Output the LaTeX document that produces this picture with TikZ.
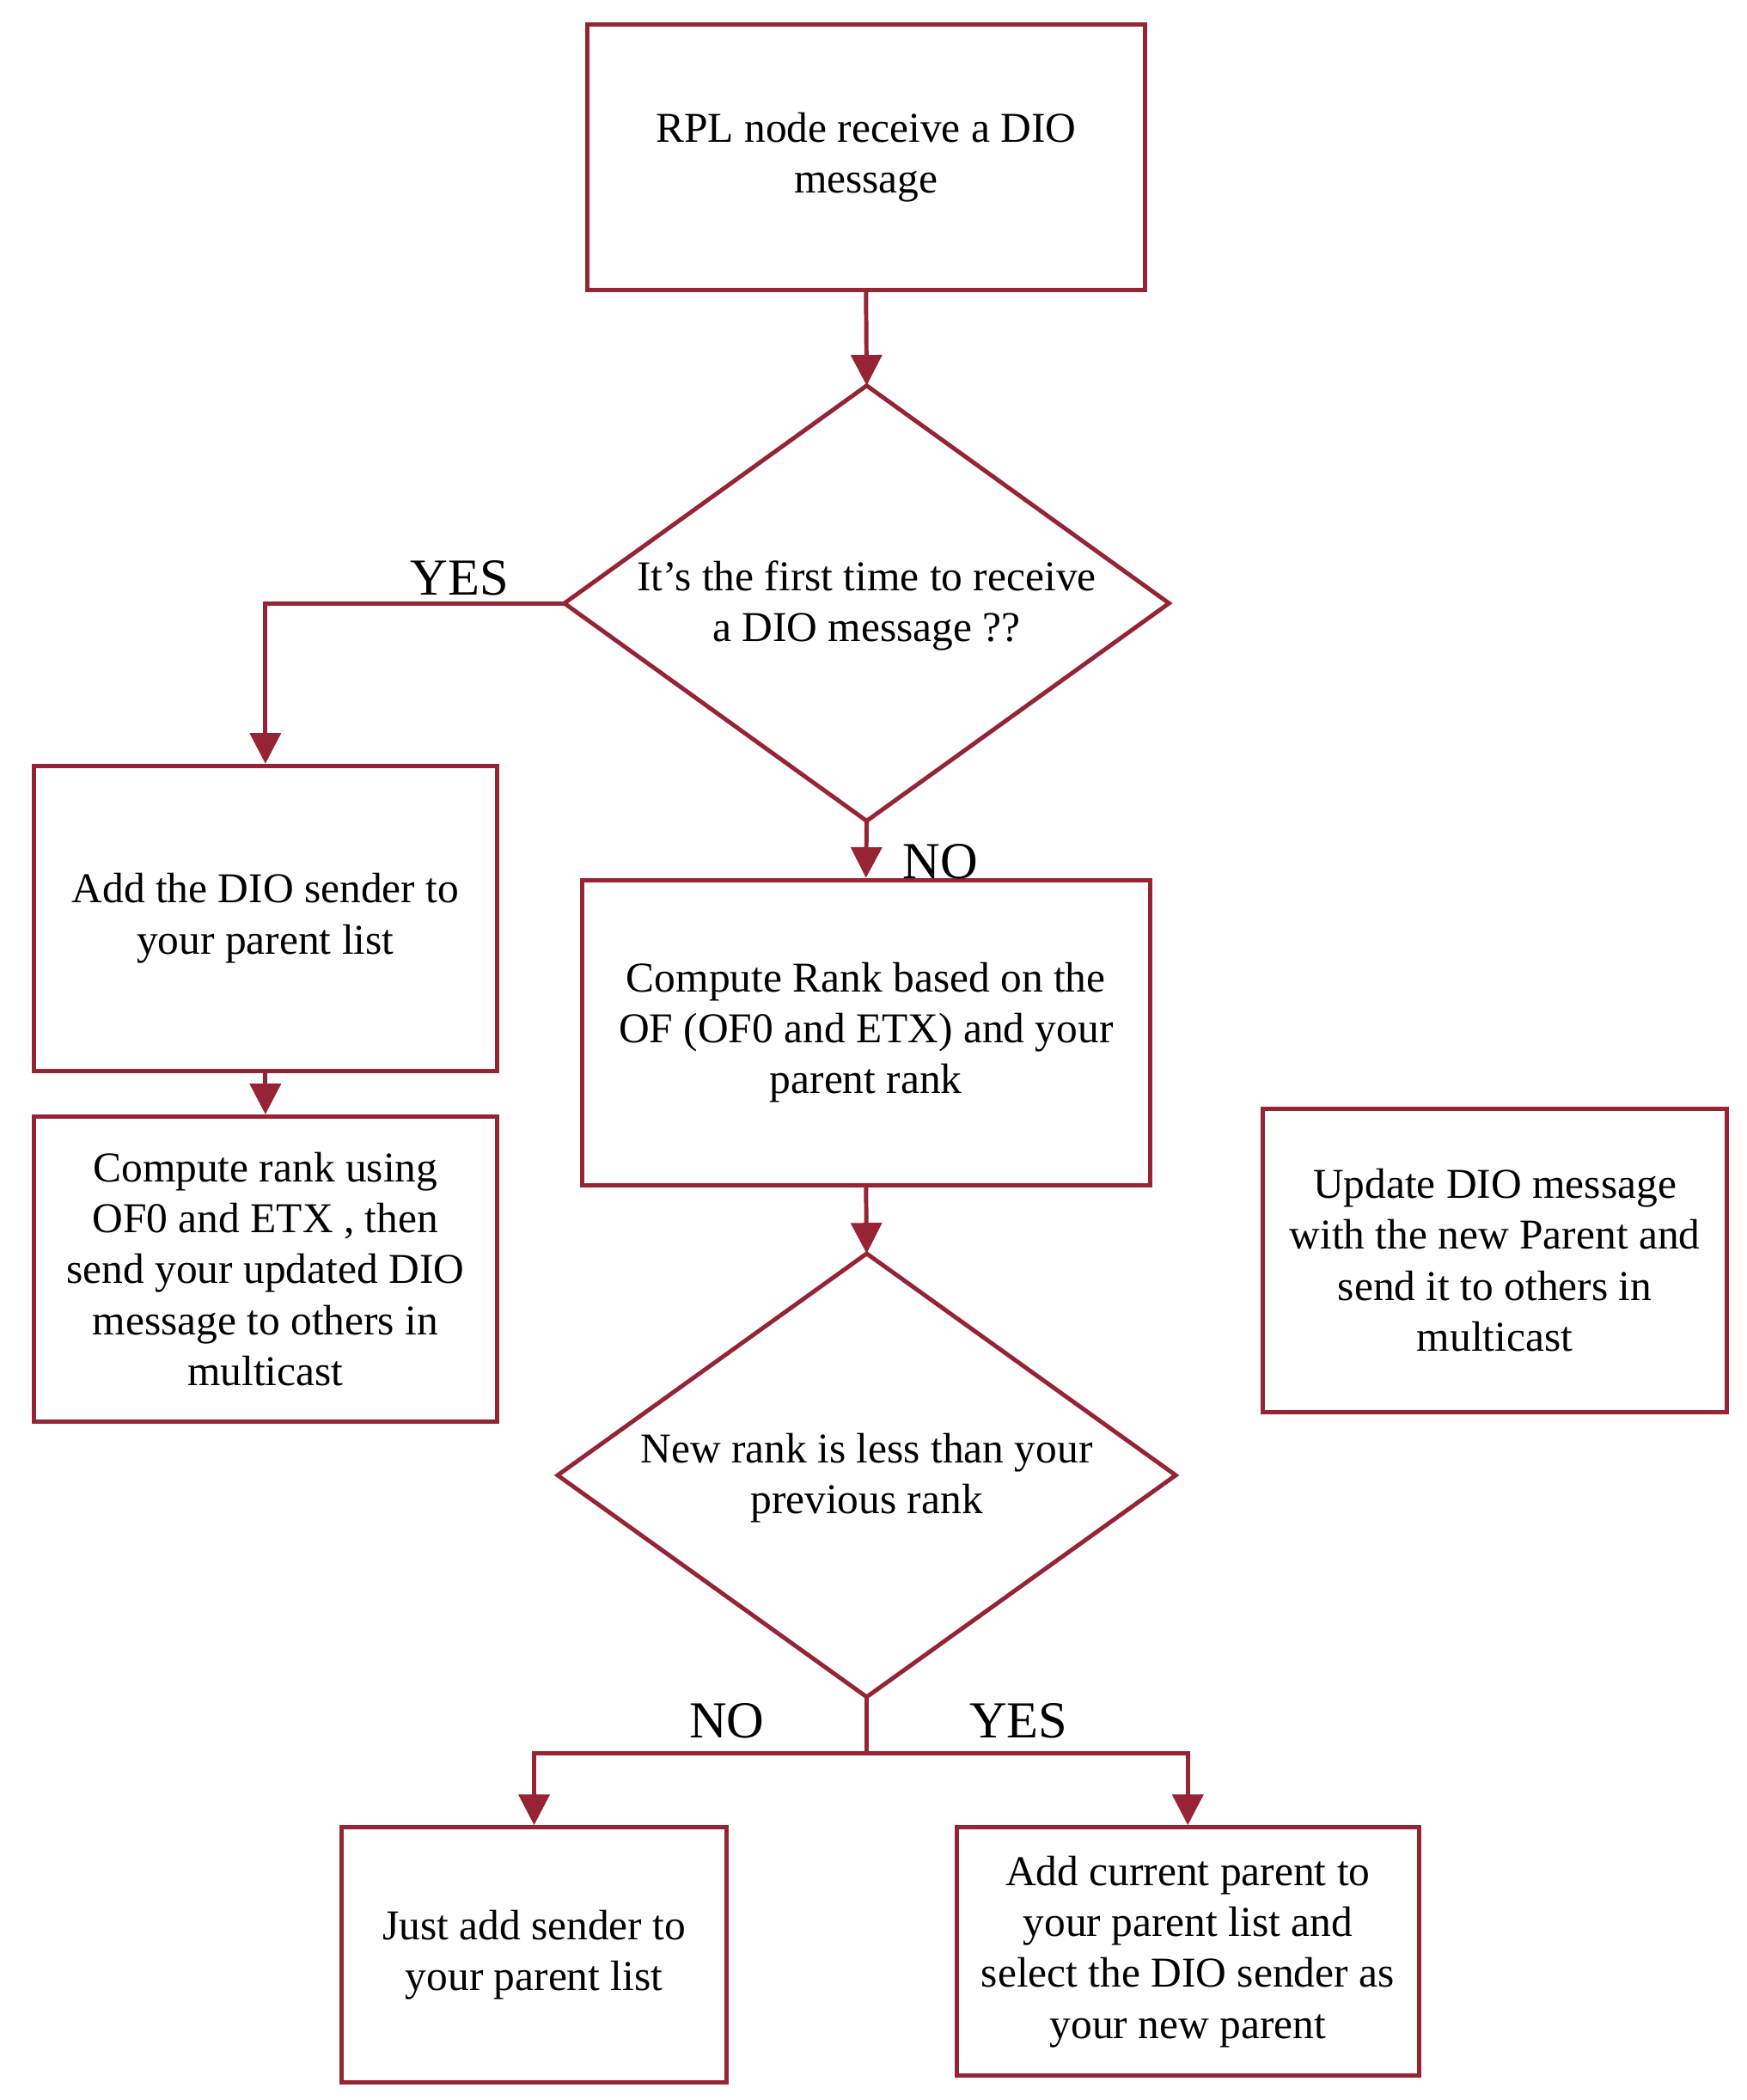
\documentclass[tikz,border=0pt]{standalone}
\usepackage{fontspec}
\setmainfont{Liberation Serif}
\usetikzlibrary{arrows.meta}
\definecolor{dred}{RGB}{150,36,52}
\begin{document}
\begin{tikzpicture}[x=0.02cm,y=-0.02cm,
  box/.style={draw=dred,line width=1.8pt,rectangle,inner sep=0pt,align=center,font=\fontsize{18}{21.6}\selectfont},
  txt/.style={align=center,font=\fontsize{18}{21.6}\selectfont},
  lab/.style={font=\fontsize{22}{26}\selectfont},
  ln/.style={draw=dred,line width=1.8pt},
  arr/.style={ln,-{Triangle[length=13pt,width=13pt]}}]
\useasboundingbox (0,0) rectangle (1300,1563);
\node[box,minimum width=415*0.02cm,minimum height=198*0.02cm] (b1) at (644.5,117) {RPL node receive a DIO\\message};
\coordinate (d1t) at (645,287); \coordinate (d1l) at (420,449);
\coordinate (d1r) at (870,449); \coordinate (d1b) at (645,611);
\draw[ln] (d1t)--(d1r)--(d1b)--(d1l)--cycle;
\node[txt] (d1) at (645,451) {It’s the first time to receive\\a DIO message ??};
\node[box,minimum width=345*0.02cm,minimum height=227*0.02cm] (b2) at (197.5,683.5) {Add the DIO sender to\\your parent list};
\node[box,minimum width=345*0.02cm,minimum height=227*0.02cm] (b3) at (197.5,944.5) {Compute rank using\\OF0 and ETX , then\\send your updated DIO\\message to others in\\multicast};
\node[box,minimum width=423*0.02cm,minimum height=227*0.02cm] (b4) at (644.5,768.5) {Compute Rank based on the\\OF (OF0 and ETX) and your\\parent rank};
\coordinate (d2t) at (645,933); \coordinate (d2l) at (415,1098);
\coordinate (d2r) at (875,1098); \coordinate (d2b) at (645,1263);
\draw[ln] (d2t)--(d2r)--(d2b)--(d2l)--cycle;
\node[txt] (d2) at (645,1100) {New rank is less than your\\previous rank};
\node[box,minimum width=345*0.02cm,minimum height=226*0.02cm] (b5) at (1112.5,938) {Update DIO message\\with the new Parent and\\send it to others in\\multicast};
\node[box,minimum width=287*0.02cm,minimum height=190*0.02cm] (b6) at (397.5,1455) {Just add sender to\\your parent list};
\node[box,minimum width=344*0.02cm,minimum height=185*0.02cm] (b7) at (884,1452.5) {Add current parent to\\your parent list and\\select the DIO sender as\\your new parent};
\draw[arr] (b1.south)--(d1t);
\draw[arr] (d1l)--(b2.north|-d1l)--(b2.north);
\draw[arr] (b2.south)--(b3.north);
\draw[arr] (d1b)--(b4.north);
\draw[arr] (b4.south)--(d2t);
\coordinate (j) at (645,1305);
\draw[ln] (d2b)--(j);
\draw[arr] (j)--(b6.north|-j)--(b6.north);
\draw[arr] (j)--(b7.north|-j)--(b7.north);
\node[lab] (y1) at (342,430) {YES};
\node[lab] (n1) at (700,641) {NO};
\node[lab] (n2) at (541,1281) {NO};
\node[lab] (y2) at (758,1281) {YES};
\end{tikzpicture}
\end{document}
